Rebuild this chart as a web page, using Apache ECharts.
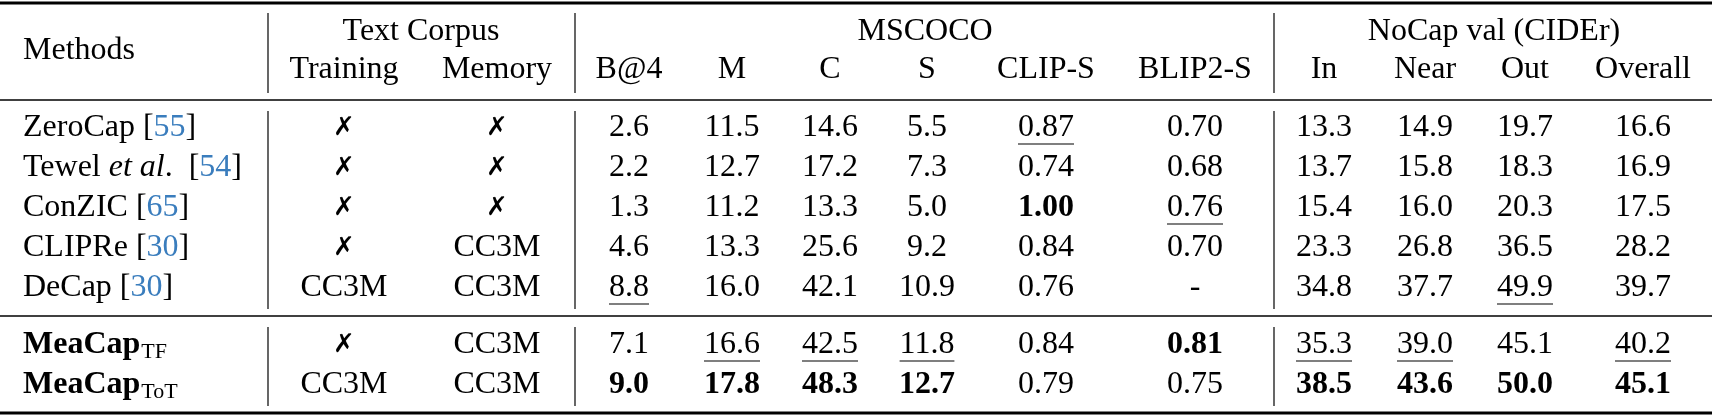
<!DOCTYPE html>
<html><head><meta charset="utf-8">
<script src="https://cdn.jsdelivr.net/npm/echarts@6/dist/echarts.min.js"></script>
<style>html,body{margin:0;background:#fff}#c{width:1717px;height:416px}</style>
</head><body><div id="c"></div>
<script>
// ---- data ----
const methods = ['ZeroCap','Tewel et al.','ConZIC','CLIPRe','DeCap','MeaCap_TF','MeaCap_ToT'];
const refs = ['55','54','65','30','30','',''];
const training = ['✗','✗','✗','✗','CC3M','✗','CC3M'];
const memory = ['✗','✗','✗','CC3M','CC3M','CC3M','CC3M'];
const colNames = ['B@4','M','C','S','CLIP-S','BLIP2-S','In','Near','Out','Overall'];
const values = [
 ['2.6','11.5','14.6','5.5','0.87','0.70','13.3','14.9','19.7','16.6'],
 ['2.2','12.7','17.2','7.3','0.74','0.68','13.7','15.8','18.3','16.9'],
 ['1.3','11.2','13.3','5.0','1.00','0.76','15.4','16.0','20.3','17.5'],
 ['4.6','13.3','25.6','9.2','0.84','0.70','23.3','26.8','36.5','28.2'],
 ['8.8','16.0','42.1','10.9','0.76','-','34.8','37.7','49.9','39.7'],
 ['7.1','16.6','42.5','11.8','0.84','0.81','35.3','39.0','45.1','40.2'],
 ['9.0','17.8','48.3','12.7','0.79','0.75','38.5','43.6','50.0','45.1']
];
// b = bold, u = underline
const marks = [
 ['','','','','u','','','','',''],
 ['','','','','','','','','',''],
 ['','','','','b','u','','','',''],
 ['','','','','','','','','',''],
 ['u','','','','','','','','u',''],
 ['','u','u','u','','b','u','u','','u'],
 ['b','b','b','b','','','b','b','b','b']
];
const groupHeaders = ['Text Corpus','MSCOCO','NoCap val (CIDEr)'];

// ---- layout ----
const colX = [629,732,830,927,1046,1195,1324,1425,1525,1643];
const trainX = 344, memX = 497, methodX = 23;
const rowY = [128,168,208,248,288,345,385];
const groupX = [421,925,1494];
const FONT = '"Liberation Serif","Times New Roman",serif';
const FS = 32;
const ctx = document.createElement('canvas').getContext('2d');
function tw(t, bold){ctx.font=(bold?'bold ':'')+FS+'px '+FONT;return ctx.measureText(t).width;}

const cells = [];
groupHeaders.forEach((g,i)=>cells.push({x:groupX[i],y:32,t:g}));
cells.push({x:methodX,y:51,t:'Methods',align:'left'});
cells.push({x:trainX,y:70,t:'Training'});
cells.push({x:memX,y:70,t:'Memory'});
colNames.forEach((c,i)=>cells.push({x:colX[i],y:70,t:c}));
methods.forEach((m,r)=>{
  cells.push({x:methodX,y:rowY[r],method:r,align:'left'});
  [[trainX,training[r]],[memX,memory[r]]].forEach(([x,t])=>cells.push({x,y:rowY[r],t,cross:t==='✗'}));
  values[r].forEach((v,c)=>cells.push({x:colX[c],y:rowY[r],t:v,bold:marks[r][c]==='b',u:marks[r][c]==='u'}));
});
const lines = [
  {x1:0,y1:3,x2:1712,y2:3,w:3},
  {x1:0,y1:100,x2:1712,y2:100,w:1.5},
  {x1:0,y1:316,x2:1712,y2:316,w:1.5},
  {x1:0,y1:413,x2:1712,y2:413,w:3},
  {x1:268,y1:13,x2:268,y2:93,w:1.2},{x1:575,y1:13,x2:575,y2:93,w:1.2},{x1:1274,y1:13,x2:1274,y2:93,w:1.2},
  {x1:268,y1:111,x2:268,y2:309,w:1.2},{x1:575,y1:111,x2:575,y2:309,w:1.2},{x1:1274,y1:111,x2:1274,y2:309,w:1.2},
  {x1:268,y1:327,x2:268,y2:406,w:1.2},{x1:575,y1:327,x2:575,y2:406,w:1.2},{x1:1274,y1:327,x2:1274,y2:406,w:1.2}
];

const chart = echarts.init(document.getElementById('c'));
chart.setOption({
  animation:false,
  grid:{left:0,right:0,top:0,bottom:0},
  xAxis:{type:'value',min:0,max:1717,show:false},
  yAxis:{type:'value',min:0,max:416,inverse:true,show:false},
  series:[
  {type:'custom',data:lines.map((l,i)=>[l.x1,l.y1,i]),renderItem:(p,api)=>{
    const l=lines[api.value(2)];const a=api.coord([l.x1,l.y1]),b=api.coord([l.x2,l.y2]);
    return {type:'line',shape:{x1:a[0],y1:a[1],x2:b[0],y2:b[1]},style:{stroke:'#000',lineWidth:l.w}};
  }},
  {type:'custom',data:cells.map((c,i)=>[c.x,c.y,i]),renderItem:(p,api)=>{
    const c=cells[api.value(2)];const pt=api.coord([c.x,c.y]);
    if(c.method!==undefined){
      const r=c.method, m=methods[r];
      if(m.startsWith('MeaCap')){
        const sub=m.split('_')[1];
        const w=tw('MeaCap',true);
        return {type:'group',children:[
          {type:'text',x:pt[0],y:pt[1],style:{text:'MeaCap',font:'bold '+FS+'px '+FONT,fill:'#000',textVerticalAlign:'middle'}},
          {type:'text',x:pt[0]+w+1,y:pt[1]+7,style:{text:sub,font:'22px '+FONT,fill:'#000',textVerticalAlign:'middle'}}
        ]};
      }
      let txt;
      if(m==='Tewel et al.') txt='{n|Tewel }{i|et al}{n|.  [}{r|'+refs[r]+'}{n|]}';
      else txt='{n|'+m+' [}{r|'+refs[r]+'}{n|]}';
      return {type:'text',x:pt[0],y:pt[1],style:{text:txt,textVerticalAlign:'middle',rich:{
        n:{font:FS+'px '+FONT,fill:'#000'},i:{font:'italic '+FS+'px '+FONT,fill:'#000'},r:{font:FS+'px '+FONT,fill:'#3a7dbd'}}}};
    }
    if(c.cross){
      return {type:'text',x:pt[0],y:pt[1],style:{text:c.t,font:'bold 26px "DejaVu Sans"',fill:'#000',textAlign:'center',textVerticalAlign:'middle'}};
    }
    const font=(c.bold?'bold ':'')+FS+'px '+FONT;
    const ch=[{type:'text',x:pt[0],y:pt[1],style:{text:c.t,font,fill:'#000',textAlign:c.align||'center',textVerticalAlign:'middle'}}];
    if(c.u){const w=tw(c.t,false);ch.push({type:'line',shape:{x1:pt[0]-w/2,y1:pt[1]+16,x2:pt[0]+w/2,y2:pt[1]+16},style:{stroke:'#000',lineWidth:1.2}});}
    return {type:'group',children:ch};
  }}
  ]
});
</script></body></html>
